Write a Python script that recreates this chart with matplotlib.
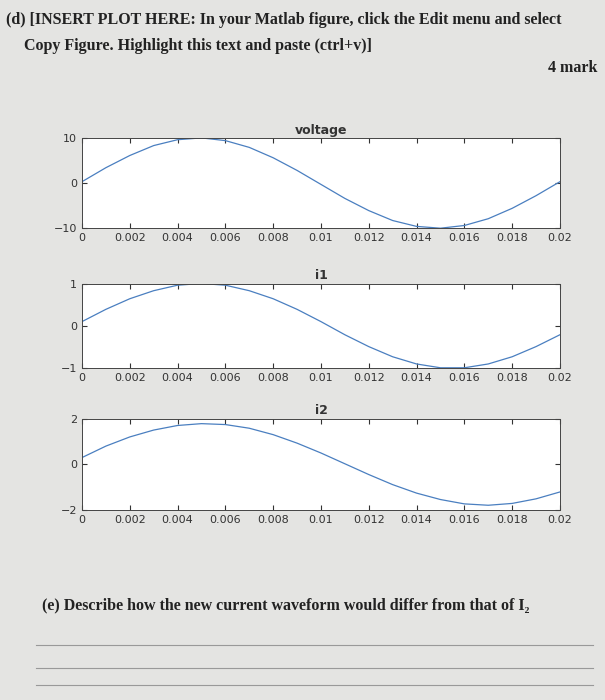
import matplotlib
matplotlib.use("Agg")
import matplotlib.pyplot as plt

t = [0.000,0.001,0.002,0.003,0.004,0.005,0.006,0.007,0.008,0.009,0.010,
     0.011,0.012,0.013,0.014,0.015,0.016,0.017,0.018,0.019,0.020]
voltage = [0.3,3.4,6.1,8.3,9.6,10.0,9.4,7.9,5.6,2.8,-0.3,-3.4,-6.1,-8.3,-9.6,-10.0,-9.4,-7.9,-5.6,-2.8,0.3]
i1 = [0.1,0.39,0.64,0.83,0.96,1.0,0.96,0.83,0.64,0.39,0.1,-0.21,-0.49,-0.73,-0.9,-0.99,-0.99,-0.9,-0.73,-0.49,-0.21]
i2 = [0.3,0.8,1.2,1.5,1.7,1.78,1.74,1.58,1.3,0.93,0.5,0.03,-0.44,-0.88,-1.25,-1.53,-1.72,-1.78,-1.7,-1.5,-1.2]
titles = ["voltage", "i1", "i2"]
ylims = [10, 1, 2]
xticks = [0,0.002,0.004,0.006,0.008,0.01,0.012,0.014,0.016,0.018,0.02]
xlabels = ["0","0.002","0.004","0.006","0.008","0.01","0.012","0.014","0.016","0.018","0.02"]

fig = plt.figure(figsize=(6.05,7.0), dpi=100, facecolor="#e4e4e2")
serif = "Liberation Serif"
fig.text(0.01, 0.983, "(d) [INSERT PLOT HERE: In your Matlab figure, click the Edit menu and select",
         fontsize=11.5, fontweight="bold", family=serif, va="top", color="#222")
fig.text(0.04, 0.945, "Copy Figure. Highlight this text and paste (ctrl+v)]",
         fontsize=11.5, fontweight="bold", family=serif, va="top", color="#222")
fig.text(0.905, 0.915, "4 mark", fontsize=11.5, fontweight="bold", family=serif, va="top", color="#222")
fig.text(0.07, 0.135, "(e) Describe how the new current waveform would differ from that of I\u2082",
         fontsize=11.5, fontweight="bold", family=serif, va="center", color="#222")
for y in [0.078, 0.046, 0.022]:
    fig.add_artist(plt.Line2D([0.06, 0.98], [y, y], color="#999", lw=0.8))

rects = [[0.1355,0.674,0.79,0.129],[0.1355,0.474,0.79,0.121],[0.1355,0.271,0.79,0.131]]
for r, title, yl, y in zip(rects, titles, ylims, [voltage, i1, i2]):
    ax = fig.add_axes(r)
    ax.set_facecolor("white")
    ax.plot(t, y, color="#4a7fc0", lw=0.9)
    ax.set_xlim(0, 0.02)
    ax.set_ylim(-yl, yl)
    ax.set_yticks([-yl, 0, yl])
    ax.set_xticks(xticks)
    ax.set_xticklabels(xlabels)
    ax.tick_params(direction="in", labelsize=8, top=True, right=True, colors="#333")
    ax.set_title(title, fontsize=9, fontweight="bold", pad=3, color="#333")
    for s in ax.spines.values():
        s.set_color("#444"); s.set_linewidth(0.7)

fig.savefig("out.png", dpi=100, facecolor=fig.get_facecolor())
